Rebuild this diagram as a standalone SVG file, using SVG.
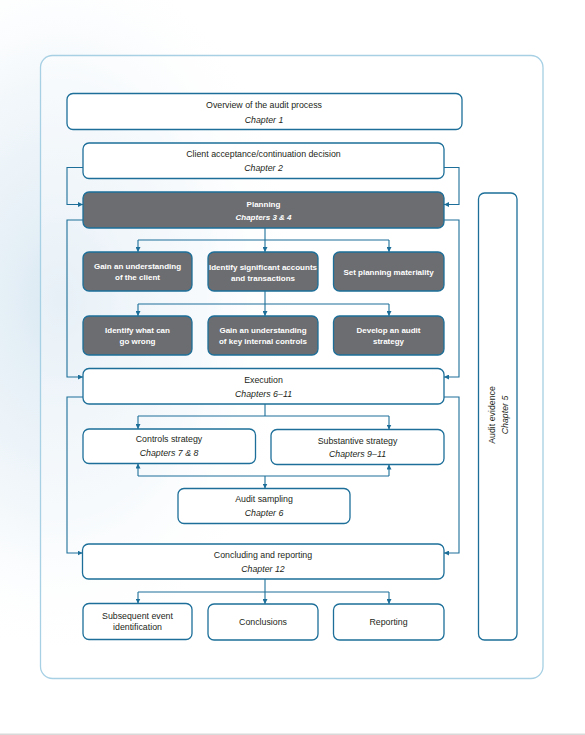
<svg xmlns="http://www.w3.org/2000/svg" width="585" height="735" viewBox="0 0 585 735">
<defs>
<radialGradient id="sky" cx="60" cy="300" r="300" gradientUnits="userSpaceOnUse" gradientTransform="translate(60 300) scale(0.8 1.2) translate(-60 -300)">
<stop offset="0" stop-color="#d6e6f1" stop-opacity="0.9"/>
<stop offset="0.6" stop-color="#e6f0f7" stop-opacity="0.5"/>
<stop offset="1" stop-color="#ffffff" stop-opacity="0"/>
</radialGradient>
<marker id="arr" viewBox="0 0 6 6" refX="6" refY="3" markerWidth="5" markerHeight="5" markerUnits="userSpaceOnUse" orient="auto">
<path d="M0,0 L6,3 L0,6 z" fill="#1d6f99"/>
</marker>
<style>
.box{fill:#ffffff;stroke:#1d6f99;stroke-width:1.3}
.dark{fill:#6c6d70;stroke:#1d6f99;stroke-width:1.3}
.t{font-family:"Liberation Sans",Arial,sans-serif;font-size:8.8px;fill:#231f20;text-anchor:middle}
.i{font-style:italic}
.w{font-family:"Liberation Sans",Arial,sans-serif;font-size:8px;font-weight:bold;fill:#ffffff;text-anchor:middle}
.c{fill:none;stroke:#1d6f99;stroke-width:1.1}
.a{marker-end:url(#arr)}
</style>
</defs>
<rect x="0" y="0" width="585" height="735" fill="#ffffff"/>
<rect x="0" y="0" width="585" height="735" fill="url(#sky)"/>
<rect x="0" y="733.5" width="585" height="1.5" fill="#d9d9d9"/>
<rect id="panel" x="40.5" y="55.5" width="502.5" height="623" rx="12" fill="#ffffff" fill-opacity="0.35" stroke="#a7d0e4" stroke-width="1.3"/>

<g id="connectors">
<path class="c a" d="M83,167.5 H67 V204.5 H83"/>
<path class="c a" d="M83,220 H67 V377 H83"/>
<path class="c a" d="M83,397 H67 V553 H82.5"/>
<path class="c a" d="M444,167.5 H459 V204.5 H444"/>
<path class="c a" d="M444,220 H459 V377 H444"/>
<path class="c a" d="M444,397 H459 V553 H444"/>
<path class="c" d="M138,240 H389"/>
<path class="c a" d="M265,228 V252"/>
<path class="c a" d="M138,240 V252"/>
<path class="c a" d="M389,240 V252"/>
<path class="c" d="M138,304 H389"/>
<path class="c a" d="M265,291 V316"/>
<path class="c a" d="M138,304 V316"/>
<path class="c a" d="M389,304 V316"/>
<path class="c" d="M138,416 H389"/>
<path class="c" d="M265,404 V416"/>
<path class="c a" d="M138,416 V429"/>
<path class="c a" d="M389,416 V429.5"/>
<path class="c" d="M138,476 H389"/>
<path class="c a" d="M138,476 V463.5"/>
<path class="c a" d="M389,476 V464.5"/>
<path class="c a" d="M265,476 V488.5"/>
<path class="c" d="M138,592 H389"/>
<path class="c a" d="M265,579 V604"/>
<path class="c a" d="M138,592 V603.5"/>
<path class="c a" d="M389,592 V604"/>
</g>

<g id="overview">
<rect class="box" x="67" y="93.5" width="395" height="36" rx="6"/>
<text class="t" x="264" y="108">Overview of the audit process</text>
<text class="t i" x="264" y="122.5">Chapter 1</text>
</g>
<g id="client">
<rect class="box" x="83" y="143" width="361" height="35.5" rx="6"/>
<text class="t" x="263.5" y="157">Client acceptance/continuation decision</text>
<text class="t i" x="263.5" y="171">Chapter 2</text>
</g>
<g id="planning">
<rect class="dark" x="83" y="192" width="361" height="36" rx="6"/>
<text class="w" x="263.5" y="206.5">Planning</text>
<text class="w i" x="263.5" y="220">Chapters 3 &amp; 4</text>
</g>
<g id="understand-client">
<rect class="dark" x="83" y="252" width="109" height="39" rx="6"/>
<text class="w" x="137.5" y="269">Gain an understanding</text>
<text class="w" x="137.5" y="280">of the client</text>
</g>
<g id="significant-accounts">
<rect class="dark" x="208" y="252" width="110" height="39" rx="6"/>
<text class="w" x="263" y="270">Identify significant accounts</text>
<text class="w" x="263" y="281">and transactions</text>
</g>
<g id="materiality">
<rect class="dark" x="333.5" y="252" width="110.5" height="39" rx="6"/>
<text class="w" x="388.5" y="275">Set planning materiality</text>
</g>
<g id="what-can-go-wrong">
<rect class="dark" x="83" y="316" width="109" height="39" rx="6"/>
<text class="w" x="137.5" y="333">Identify what can</text>
<text class="w" x="137.5" y="344">go wrong</text>
</g>
<g id="internal-controls">
<rect class="dark" x="208" y="316" width="110" height="39" rx="6"/>
<text class="w" x="263" y="333">Gain an understanding</text>
<text class="w" x="263" y="344">of key internal controls</text>
</g>
<g id="audit-strategy">
<rect class="dark" x="333.5" y="316" width="110.5" height="39" rx="6"/>
<text class="w" x="388.5" y="333">Develop an audit</text>
<text class="w" x="388.5" y="344">strategy</text>
</g>
<g id="execution">
<rect class="box" x="83" y="368.5" width="361" height="35.5" rx="6"/>
<text class="t" x="263.5" y="383">Execution</text>
<text class="t i" x="263.5" y="396.5">Chapters 6–11</text>
</g>
<g id="controls-strategy">
<rect class="box" x="83" y="429" width="172.5" height="34.5" rx="6"/>
<text class="t" x="169" y="442">Controls strategy</text>
<text class="t i" x="169" y="456">Chapters 7 &amp; 8</text>
</g>
<g id="substantive-strategy">
<rect class="box" x="271" y="429.5" width="173" height="35" rx="6"/>
<text class="t" x="357.5" y="443.5">Substantive strategy</text>
<text class="t i" x="357.5" y="457">Chapters 9–11</text>
</g>
<g id="audit-sampling">
<rect class="box" x="178" y="488.5" width="172" height="35" rx="6"/>
<text class="t" x="264" y="502">Audit sampling</text>
<text class="t i" x="264" y="516">Chapter 6</text>
</g>
<g id="concluding">
<rect class="box" x="82.5" y="544" width="361.5" height="35" rx="6"/>
<text class="t" x="263" y="558">Concluding and reporting</text>
<text class="t i" x="263" y="572">Chapter 12</text>
</g>
<g id="subsequent-event">
<rect class="box" x="83" y="603.5" width="109" height="36" rx="6"/>
<text class="t" x="137.5" y="619">Subsequent event</text>
<text class="t" x="137.5" y="630">identification</text>
</g>
<g id="conclusions">
<rect class="box" x="208" y="604" width="110" height="36" rx="6"/>
<text class="t" x="263" y="625">Conclusions</text>
</g>
<g id="reporting">
<rect class="box" x="333.5" y="604" width="110.5" height="36" rx="6"/>
<text class="t" x="388.5" y="625">Reporting</text>
</g>
<g id="audit-evidence">
<rect class="box" x="478.5" y="193" width="38.5" height="447" rx="6"/>
<text class="t" transform="translate(495 415) rotate(-90)" x="0" y="0">Audit evidence</text>
<text class="t i" transform="translate(508 415) rotate(-90)" x="0" y="0">Chapter 5</text>
</g>
</svg>
